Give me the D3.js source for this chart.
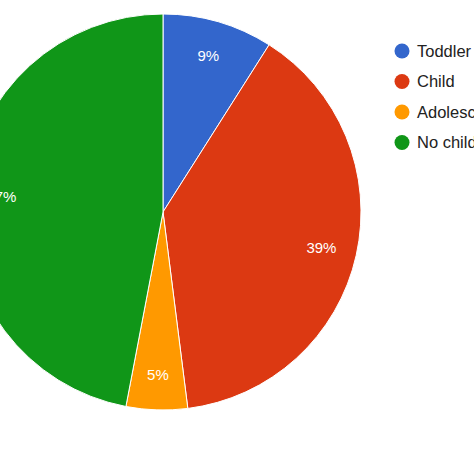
<!DOCTYPE html>
<html><head><meta charset="utf-8">
<script src="https://cdn.jsdelivr.net/npm/d3@7"></script>
<style>body{margin:0;background:#fff}svg{display:block}</style>
</head><body>
<svg id="c" width="474" height="474"></svg>
<script>
const categories = ["Toddler", "Child", "Adolescent", "No children"];
const values = [9, 39, 5, 47];
const colors = ["#3366cc", "#dc3912", "#ff9900", "#109618"];

const svg = d3.select("#c");
const cx = 163, cy = 212, r = 198;
const pie = d3.pie().sort(null).value(d => d)(values);
const arc = d3.arc().innerRadius(0).outerRadius(r);
const labelArc = d3.arc().innerRadius(r * 0.82).outerRadius(r * 0.82);
const g = svg.append("g").attr("transform", `translate(${cx},${cy})`);
g.selectAll("path").data(pie).join("path")
  .attr("d", arc).attr("fill", (d, i) => colors[i])
  .attr("stroke", "#fff").attr("stroke-width", 1);
g.selectAll("text").data(pie).join("text")
  .attr("transform", d => `translate(${labelArc.centroid(d)})`)
  .attr("text-anchor", "middle").attr("dy", "0.35em")
  .attr("fill", "#fff").attr("font-family", "Arial, Liberation Sans, sans-serif")
  .attr("font-size", 15)
  .text(d => d.data + "%");

const lg = svg.append("g");
categories.forEach((c, i) => {
  const y = 51 + i * 30.5;
  lg.append("circle").attr("cx", 402).attr("cy", y).attr("r", 7.5).attr("fill", colors[i]);
  lg.append("text").attr("x", 417).attr("y", y).attr("dy", "0.35em")
    .attr("font-family", "Arial, Liberation Sans, sans-serif").attr("font-size", 16.5)
    .attr("fill", "#222").text(c);
});
</script>
</body></html>
